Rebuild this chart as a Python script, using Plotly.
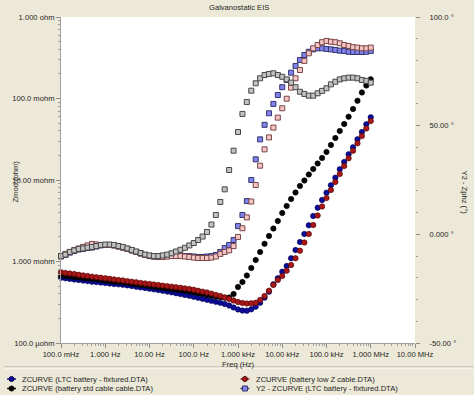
import plotly.graph_objects as go

# ---------------- data ----------------
freq_hz = [
    0.1, 0.1259, 0.1585, 0.1995, 0.2512, 0.3162, 0.3981, 0.5012, 0.6310, 0.7943,
    1.0, 1.259, 1.585, 1.995, 2.512, 3.162, 3.981, 5.012, 6.310, 7.943,
    10.0, 12.59, 15.85, 19.95, 25.12, 31.62, 39.81, 50.12, 63.10, 79.43,
    100.0, 125.9, 158.5, 199.5, 251.2, 316.2, 398.1, 501.2, 631.0, 794.3,
    1000.0, 1259, 1585, 1995, 2512, 3162, 3981, 5012, 6310, 7943,
    10000, 12590, 15850, 19950, 25120, 31620, 39810, 50120, 63100, 79430,
    100000, 125900, 158500, 199500, 251200, 316200, 398100, 501200, 631000, 794300,
    1000000,
]

# |Z| in milliohm
zmod_ltc_fixtured_mohm = [
    0.633, 0.622, 0.612, 0.601, 0.593, 0.583, 0.575, 0.565, 0.559, 0.551,
    0.545, 0.537, 0.530, 0.524, 0.518, 0.509, 0.500, 0.491, 0.481, 0.473,
    0.464, 0.455, 0.447, 0.437, 0.427, 0.418, 0.408, 0.398, 0.388, 0.379,
    0.369, 0.358, 0.348, 0.339, 0.329, 0.320, 0.311, 0.301, 0.288, 0.273,
    0.258, 0.250, 0.249, 0.259, 0.279, 0.312, 0.360, 0.426, 0.525, 0.622,
    0.750, 0.881, 1.095, 1.384, 1.735, 2.175, 2.781, 3.616, 4.572, 5.683,
    6.985, 8.610, 10.67, 13.53, 16.63, 20.67, 25.19, 31.58, 38.81, 48.25,
    58.79,
]
zmod_low_z_cable_mohm = [
    0.737, 0.723, 0.712, 0.702, 0.687, 0.675, 0.664, 0.651, 0.642, 0.633,
    0.622, 0.613, 0.603, 0.593, 0.585, 0.575, 0.565, 0.556, 0.546, 0.537,
    0.530, 0.522, 0.515, 0.506, 0.499, 0.491, 0.484, 0.476, 0.468, 0.460,
    0.450, 0.438, 0.427, 0.417, 0.404, 0.390, 0.377, 0.362, 0.347, 0.332,
    0.318, 0.310, 0.305, 0.307, 0.312, 0.337, 0.377, 0.438, 0.515, 0.593,
    0.664, 0.771, 0.906, 1.095, 1.357, 1.711, 2.175, 2.805, 3.667, 4.730,
    6.013, 7.540, 9.452, 11.85, 14.85, 18.46, 22.88, 28.20, 34.66, 42.84,
    52.96,
]
zmod_std_cable_mohm = [
    0.673, 0.664, 0.655, 0.645, 0.636, 0.627, 0.620, 0.613, 0.605, 0.596,
    0.586, 0.576, 0.568, 0.560, 0.553, 0.543, 0.534, 0.525, 0.516, 0.508,
    0.499, 0.491, 0.483, 0.474, 0.466, 0.458, 0.451, 0.443, 0.436, 0.427,
    0.418, 0.408, 0.399, 0.389, 0.379, 0.371, 0.364, 0.360, 0.362, 0.399,
    0.487, 0.560, 0.673, 0.832, 1.043, 1.308, 1.649, 2.056, 2.540, 3.140,
    3.936, 4.797, 5.847, 7.024, 8.443, 9.861, 11.68, 13.65, 15.94, 18.62,
    22.06, 26.88, 32.76, 39.93, 48.66, 59.80, 74.32, 93.71, 118.5, 144.4,
    172.0,
]

# Zphz in degrees (Y2 axis)
zphz_ltc_fixtured_deg = [
    -10.2, -9.5, -8.4, -7.7, -7.0, -6.7, -6.3, -6.1, -5.6, -5.1,
    -4.9, -4.9, -5.1, -5.6, -6.1, -6.7, -7.4, -8.1, -8.8, -9.5,
    -10.0, -10.2, -10.2, -10.2, -10.0, -9.7, -9.7, -9.7, -10.0, -10.0,
    -10.2, -10.4, -10.4, -10.2, -10.0, -9.5, -8.1, -6.3, -4.9, -2.6,
    3.8, 8.9, 15.3, 25.0, 34.5, 43.7, 50.4, 55.7, 60.0, 64.1,
    67.7, 71.0, 74.4, 77.5, 80.2, 82.5, 84.0, 85.1, 85.6, 85.6,
    85.3, 85.1, 84.8, 84.5, 84.4, 84.0, 83.9, 83.9, 83.9, 84.0,
    84.4,
]
zphz_low_z_cable_deg = [
    -10.0, -9.0, -8.1, -7.2, -6.5, -5.8, -5.1, -4.4, -4.7, -4.9,
    -4.9, -4.9, -5.1, -5.6, -6.1, -6.7, -7.4, -8.1, -8.8, -9.5,
    -10.0, -10.2, -10.4, -10.4, -10.2, -10.0, -10.0, -10.0, -10.2, -10.4,
    -10.7, -10.9, -10.9, -10.9, -10.7, -10.2, -9.0, -8.1, -7.4, -5.4,
    -1.2, 2.8, 7.8, 15.1, 22.7, 31.6, 39.1, 44.6, 49.1, 53.7,
    58.0, 62.4, 67.5, 71.8, 75.6, 79.8, 83.3, 85.6, 87.1, 88.4,
    89.0, 88.6, 88.4, 87.9, 87.1, 86.7, 86.1, 85.9, 85.6, 85.6,
    85.9,
]
zphz_std_cable_deg = [
    -10.0, -9.3, -8.1, -7.4, -6.7, -6.5, -6.1, -5.8, -5.4, -4.9,
    -4.7, -4.7, -4.9, -5.4, -5.8, -6.5, -7.2, -7.9, -8.6, -9.3,
    -9.7, -10.0, -10.0, -9.7, -9.3, -8.7, -7.9, -7.1, -6.2, -5.1,
    -4.0, -2.6, -1.0, 1.1, 4.5, 8.9, 14.9, 20.7, 29.6, 38.5,
    47.1, 55.4, 60.9, 66.1, 69.5, 71.8, 73.3, 73.8, 74.1, 73.3,
    72.5, 71.3, 69.8, 67.7, 65.6, 64.6, 63.8, 63.8, 64.9, 66.0,
    67.2, 69.0, 70.2, 71.3, 71.8, 72.1, 72.1, 71.8, 71.0, 70.6,
    69.8,
]

x_tick_vals = [0.1, 1, 10, 100, 1e3, 1e4, 1e5, 1e6, 1e7]
x_tick_text = ["100.0 mHz", "1.000 Hz", "10.00 Hz", "100.0 Hz", "1.000 kHz",
               "10.00 kHz", "100.0 kHz", "1.000 MHz", "10.00 MHz"]
y_tick_vals = [1e-4, 1e-3, 1e-2, 1e-1, 1.0]
y_tick_text = ["100.0 \u00b5ohm", "1.000 mohm", "10.00 mohm", "100.0 mohm", "1.000 ohm"]
y2_tick_vals = [-50, 0, 50, 100]
y2_tick_text = ["-50.00 \u00b0", "0.000 \u00b0", "50.00 \u00b0", "100.0 \u00b0"]

legend_names = [
    "ZCURVE (LTC battery - fixtured.DTA)",
    "ZCURVE (battery low Z cable.DTA)",
    "ZCURVE (battery std cable cable.DTA)",
    "Y2 - ZCURVE (LTC battery - fixtured.DTA)",
]

# ---------------- layout constants ----------------
W, H = 474, 395
L, R, T, B = 57, 59, 17, 52
PW, PH = W - L - R, H - T - B
BG = "#ECE9D8"
TXT = "#1e1e1e"
FONT = "Liberation Sans"
FS = 7.6


def px(x):
    return (x - L) / PW


def py(y):
    return (H - B - y) / PH


def to_ohm(vals):
    return [v / 1000.0 for v in vals]


fig = go.Figure()

# phase squares (right axis)
sq = dict(symbol="square", size=5)
fig.add_trace(go.Scatter(x=freq_hz, y=zphz_ltc_fixtured_deg, mode="markers", yaxis="y2",
                         name=legend_names[3], cliponaxis=False,
                         marker=dict(color="#8282F0", line=dict(color="#35356A", width=1), **sq)))
fig.add_trace(go.Scatter(x=freq_hz, y=zphz_low_z_cable_deg, mode="markers", yaxis="y2",
                         name="Y2 - ZCURVE (battery low Z cable.DTA)", cliponaxis=False,
                         marker=dict(color="#F4C6C6", line=dict(color="#7A4444", width=1), **sq)))
fig.add_trace(go.Scatter(x=freq_hz, y=zphz_std_cable_deg, mode="markers", yaxis="y2",
                         name="Y2 - ZCURVE (battery std cable cable.DTA)", cliponaxis=False,
                         marker=dict(color="#C2C2C2", line=dict(color="#474747", width=1), **sq)))

# impedance magnitude circles (left axis)
ci = dict(symbol="circle", size=5.4)
fig.add_trace(go.Scatter(x=freq_hz, y=to_ohm(zmod_ltc_fixtured_mohm), mode="markers",
                         name=legend_names[0], cliponaxis=False,
                         marker=dict(color="#0C0C9A", line=dict(color="#00004A", width=0.6), **ci)))
fig.add_trace(go.Scatter(x=freq_hz, y=to_ohm(zmod_std_cable_mohm), mode="markers",
                         name=legend_names[2], cliponaxis=False,
                         marker=dict(color="#050505", line=dict(color="#000000", width=0.6), **ci)))
fig.add_trace(go.Scatter(x=freq_hz, y=to_ohm(zmod_low_z_cable_mohm), mode="markers",
                         name=legend_names[1], cliponaxis=False,
                         marker=dict(color="#A81818", line=dict(color="#4A0000", width=0.6), **ci)))

x_minor = [k * 10.0 ** d for d in range(-1, 7) for k in range(2, 10)]
y_minor = [k * 10.0 ** d for d in range(-4, 0) for k in range(2, 10)]

axis_font = dict(family=FONT, size=FS, color=TXT)

fig.update_layout(
    width=W, height=H, autosize=False,
    margin=dict(l=L, r=R, t=T, b=B, pad=0),
    paper_bgcolor=BG, plot_bgcolor="#FFFFFF",
    showlegend=False,
    font=axis_font,
    xaxis=dict(type="log", range=[-1, 7], tickmode="array", tickvals=x_tick_vals,
               ticktext=x_tick_text, ticks="outside", ticklen=4, tickcolor="#8c8c8c",
               showline=True, linecolor="#a0a0a0", linewidth=1, showgrid=False,
               zeroline=False, tickfont=axis_font,
               minor=dict(tickmode="array", tickvals=x_minor, ticks="outside", ticklen=2,
                          tickcolor="#a0a0a0", showgrid=False)),
    yaxis=dict(type="log", range=[-4, 0], tickmode="array", tickvals=y_tick_vals,
               ticktext=y_tick_text, ticks="outside", ticklen=4, tickcolor="#8c8c8c",
               showline=True, linecolor="#a0a0a0", linewidth=1, showgrid=False,
               zeroline=False, tickfont=axis_font,
               minor=dict(tickmode="array", tickvals=y_minor, ticks="outside", ticklen=2,
                          tickcolor="#a0a0a0", showgrid=False)),
    yaxis2=dict(overlaying="y", side="right", range=[-50, 100], tickmode="array",
                tickvals=y2_tick_vals, ticktext=y2_tick_text, ticks="outside", ticklen=4,
                tickcolor="#8c8c8c", showline=False, showgrid=False, zeroline=False,
                tickfont=axis_font, ticklabelstandoff=8,
                minor=dict(dtick=10, tick0=0, ticks="outside", ticklen=2,
                           tickcolor="#a0a0a0", showgrid=False)),
)

annotations = [
    dict(text="Galvanostatic EIS", x=px(237), y=py(8), xanchor="center", yanchor="middle"),
    dict(text="Freq (Hz)", x=px(237), y=py(364), xanchor="center", yanchor="middle"),
    dict(text="Zmod (ohm)", x=px(10), y=py(182), xanchor="center", yanchor="middle", textangle=-90),
    dict(text="Y2 - Zphz (\u00b0)", x=px(466), y=py(193), xanchor="center", yanchor="middle", textangle=90),
]

shapes = [
    dict(type="line", xref="paper", yref="paper", x0=px(0), x1=px(W), y0=py(367), y1=py(367),
         line=dict(color="#ACA899", width=1)),
    dict(type="line", xref="paper", yref="paper", x0=px(0), x1=px(W), y0=py(368), y1=py(368),
         line=dict(color="#FFFFFF", width=1)),
]

legend_items = [
    (7, 379, "circle", "#0C0C9A", "#00004A", legend_names[0]),
    (243, 379, "circle", "#A81818", "#4A0000", legend_names[1]),
    (7, 388.5, "circle", "#050505", "#000000", legend_names[2]),
    (243, 388.5, "rect", "#8282F0", "#35356A", legend_names[3]),
]
for cx, cy, kind, fill, edge, label in legend_items:
    shapes.append(dict(type="line", xref="paper", yref="paper",
                       x0=px(cx - 4.5), x1=px(cx + 4.5), y0=py(cy), y1=py(cy),
                       line=dict(color=edge if kind == "rect" else fill, width=1.5)))
    r = 2.5
    shapes.append(dict(type=kind, xref="paper", yref="paper",
                       x0=px(cx - r), x1=px(cx + r), y0=py(cy + r), y1=py(cy - r),
                       fillcolor=fill, line=dict(color=edge, width=1)))
    annotations.append(dict(text=label, x=px(cx + 9), y=py(cy), xanchor="left", yanchor="middle"))

for a in annotations:
    a.update(xref="paper", yref="paper", showarrow=False, font=axis_font)

fig.update_layout(annotations=annotations, shapes=shapes)

fig.write_html(
    "out.html",
    config={"displayModeBar": False},
    post_script="document.body.style.margin='0';document.body.style.padding='0';"
                "document.body.style.overflow='hidden';",
)
